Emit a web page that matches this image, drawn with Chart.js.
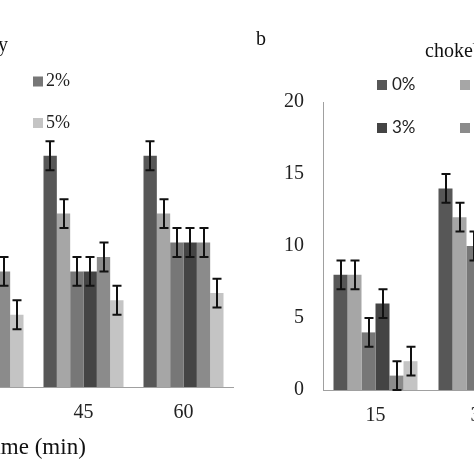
<!DOCTYPE html>
<html>
<head>
<meta charset="utf-8">
<script src="https://cdn.jsdelivr.net/npm/chart.js@4.4.1/dist/chart.umd.min.js"></script>
<style>
  html, body { margin: 0; padding: 0; background: #fff; }
  #wrap { position: relative; width: 474px; height: 474px; overflow: hidden; background: #fff; }
  #chartA { position: absolute; left: -260px; top: 0; }
  #chartB { position: absolute; left: 240px; top: 0; }
</style>
</head>
<body>
<div id="wrap">
  <canvas id="chartA" width="500" height="474"></canvas>
  <canvas id="chartB" width="520" height="474"></canvas>
</div>
<script>
const times = ['15', '30', '45', '60'];
const seriesLabels = ['0%', '1%', '2%', '3%', '4%', '5%'];
const seriesColors = ['#575757', '#a6a6a6', '#777777', '#444444', '#8b8b8b', '#c4c4c4'];
const yTicks = [0, 5, 10, 15, 20];

// panel a
const a0 = [9, 13, 16, 16];
const a1 = [8, 11, 12, 12];
const a2 = [6, 9, 8, 10];
const a3 = [5, 8, 8, 10];
const a4 = [5, 8, 9, 10];
const a5 = [3, 5, 6, 6.5];
const aErr = [1, 1, 1, 1];

// panel b
const b0 = [8, 14, 15, 16];
const b1 = [8, 12, 13, 14];
const b2 = [4, 10, 11, 12];
const b3 = [6, 9, 10, 11];
const b4 = [1, 7, 8, 10];
const b5 = [2, 6, 7, 8];
const bErr = [1, 1, 1, 1];

const serif = "'Liberation Serif', 'Times New Roman', serif";

// error bars drawn from the y scale
const errorBars = {
  id: 'errorBars',
  afterDatasetsDraw(chart) {
    const ctx = chart.ctx;
    const y = chart.scales.y;
    ctx.save();
    ctx.strokeStyle = '#111';
    ctx.lineWidth = 2;
    chart.data.datasets.forEach((ds, i) => {
      chart.getDatasetMeta(i).data.forEach((bar, j) => {
        const v = ds.data[j];
        const e = ds.errors[j];
        const top = y.getPixelForValue(v + e);
        const bot = y.getPixelForValue(Math.max(0, v - e));
        const x = Math.round(bar.x);
        ctx.beginPath();
        ctx.moveTo(x, top); ctx.lineTo(x, bot);
        ctx.moveTo(x - 4.5, top); ctx.lineTo(x + 4.5, top);
        ctx.moveTo(x - 4.5, bot); ctx.lineTo(x + 4.5, bot);
        ctx.stroke();
      });
    });
    ctx.restore();
  }
};

// chart title, panel letter and the 3-column legend
const panelText = {
  id: 'panelText',
  afterDraw(chart, args, o) {
    const ctx = chart.ctx;
    const dx = -o.offsetX;
    ctx.save();
    ctx.fillStyle = '#111';
    ctx.textBaseline = 'alphabetic';
    ctx.font = '20px ' + serif;
    ctx.textAlign = 'left';
    ctx.fillText(o.letter, o.letterX + dx, o.letterY);
    ctx.textAlign = o.titleAlign;
    ctx.fillText(o.title, o.titleX + dx, o.titleY);
    ctx.textAlign = 'left';
    ctx.textBaseline = 'middle';
    ctx.font = o.legendFont;
    chart.data.datasets.forEach((ds, i) => {
      const x = o.legendX + (i % 3) * o.colW + dx;
      const y = o.legendY + Math.floor(i / 3) * o.rowH;
      ctx.fillStyle = ds.backgroundColor;
      ctx.fillRect(x, y - 5, 10, 10);
      ctx.fillStyle = '#222';
      ctx.fillText(ds.label, x + 10 + o.gap, y);
    });
    ctx.restore();
  }
};

function makeChart(id, values, errs, opts) {
  return new Chart(document.getElementById(id), {
    type: 'bar',
    data: {
      labels: times,
      datasets: values.map((v, i) => ({
        label: seriesLabels[i],
        data: v,
        errors: errs,
        backgroundColor: seriesColors[i],
        borderWidth: 0,
        categoryPercentage: 0.8,
        barPercentage: 1
      }))
    },
    options: {
      responsive: false,
      animation: false,
      devicePixelRatio: 1,
      layout: { padding: { left: 0, right: opts.padRight, top: opts.padTop, bottom: 0 } },
      plugins: {
        legend: { display: false },
        tooltip: { enabled: false },
        title: { display: false },
        panelText: opts.text
      },
      scales: {
        x: {
          grid: { display: false, drawTicks: false },
          border: { display: true, color: '#a0a0a0', width: 1 },
          ticks: { font: { family: serif, size: 20 }, color: '#222', padding: 14 },
          title: {
            display: true, text: 'Time (min)', color: '#111',
            font: { family: serif, size: 23 }, padding: { top: 0, bottom: 12 }
          },
          afterFit: s => { s.height = opts.xHeight; }
        },
        y: {
          min: 0, max: 20,
          afterBuildTicks: s => { s.ticks = yTicks.map(v => ({ value: v })); },
          grid: { display: false, drawTicks: false },
          border: { display: true, color: '#a0a0a0', width: 1 },
          ticks: { font: { family: serif, size: 20 }, color: '#222', padding: 19 },
          afterFit: s => { s.width = opts.yWidth; }
        }
      }
    },
    plugins: [errorBars, panelText]
  });
}

makeChart('chartA', [a0, a1, a2, a3, a4, a5], aErr, {
  padRight: 6.5, padTop: 98, xHeight: 87, yWidth: 93.5,
  text: {
    offsetX: -260, title: 'chokeberry', titleAlign: 'right', titleX: 8, titleY: 51,
    letter: 'a', letterX: -244, letterY: 45,
    legendX: -127, legendY: 81.5, colW: 80, rowH: 41.5, gap: 3,
    legendFont: '18px ' + serif
  }
});

makeChart('chartB', [b0, b1, b2, b3, b4, b5], bErr, {
  padRight: 17, padTop: 102, xHeight: 84, yWidth: 83,
  text: {
    offsetX: 240, title: 'chokeberry', titleAlign: 'left', titleX: 425, titleY: 57,
    letter: 'b', letterX: 256, letterY: 45,
    legendX: 377, legendY: 85, colW: 83, rowH: 43, gap: 5,
    legendFont: "17px Lato, 'Liberation Sans', sans-serif"
  }
});
</script>
</body>
</html>
